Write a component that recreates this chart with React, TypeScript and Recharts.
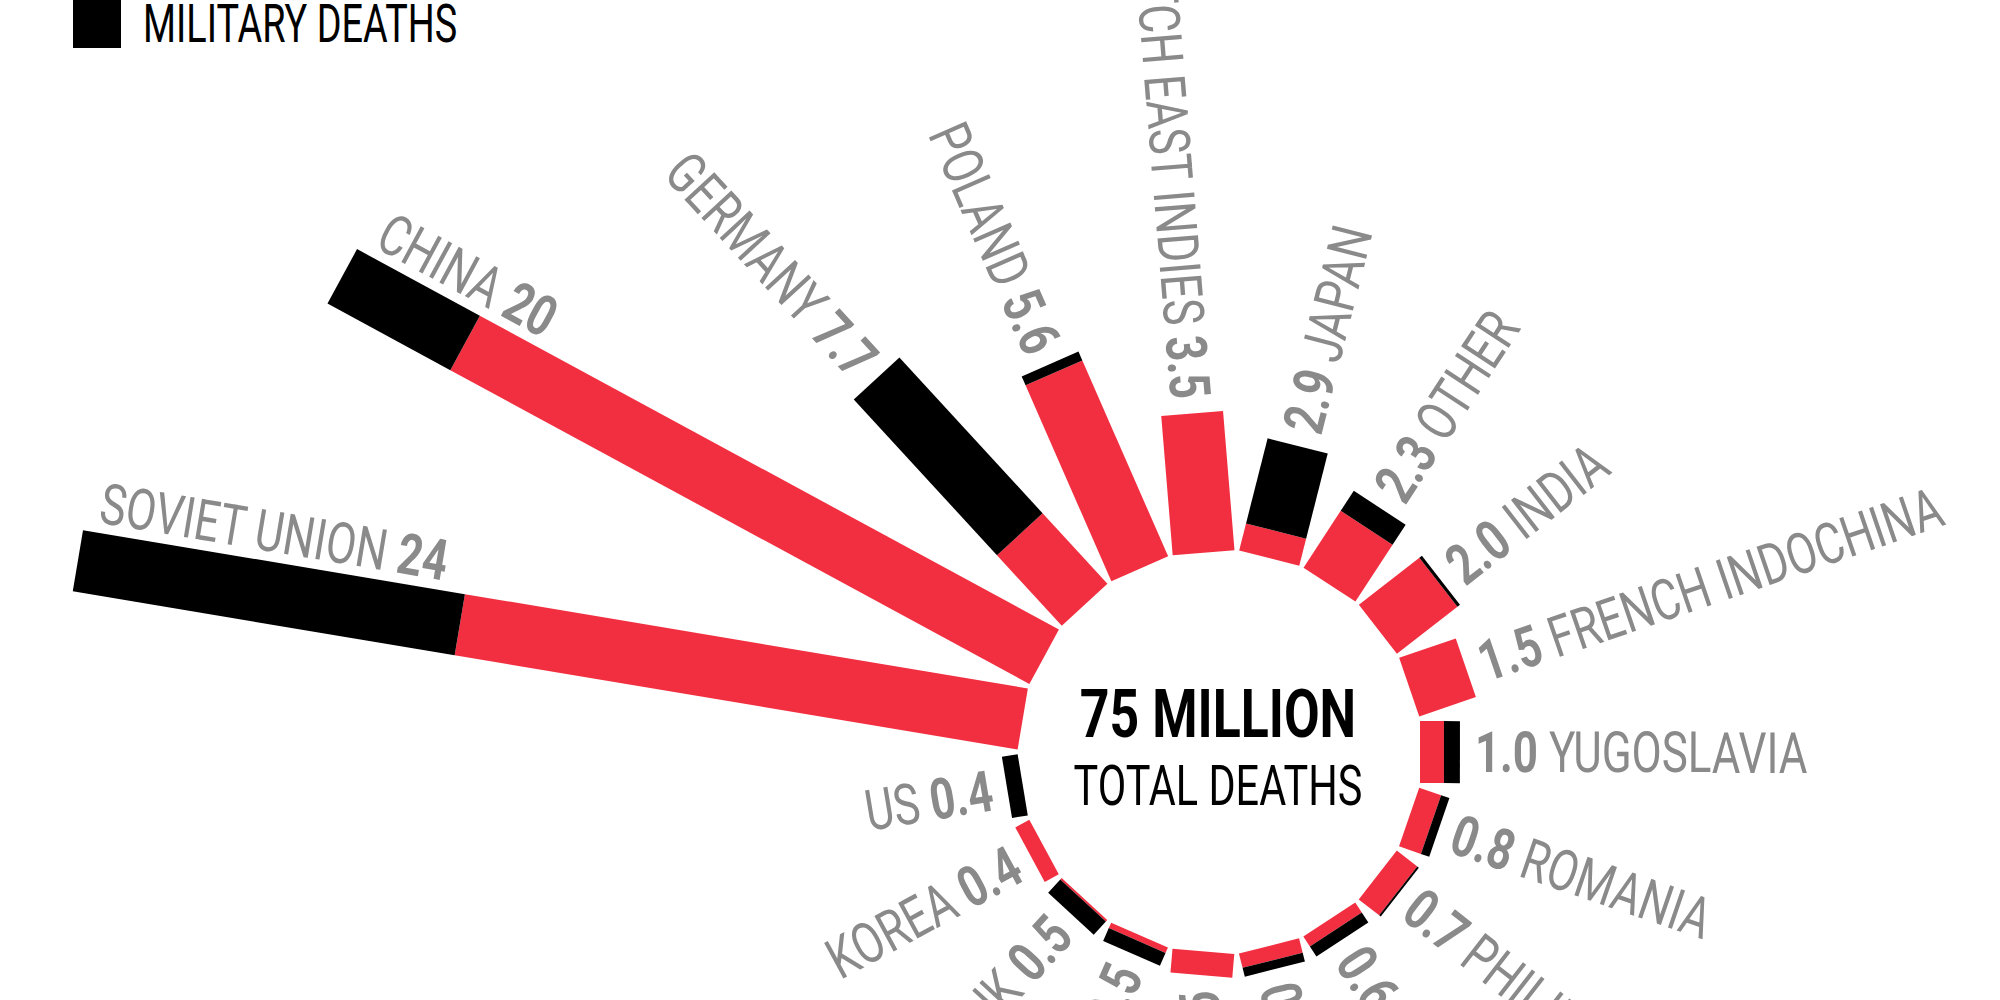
import React from "react";
import {
  RadialBarChart,
  RadialBar,
  PolarAngleAxis,
  PolarRadiusAxis,
  Legend,
  Customized,
} from "recharts";

// WWII deaths by country, millions
const countries = [
  "SOVIET UNION",
  "CHINA",
  "GERMANY",
  "POLAND",
  "DUTCH EAST INDIES",
  "JAPAN",
  "OTHER",
  "INDIA",
  "FRENCH INDOCHINA",
  "YUGOSLAVIA",
  "ROMANIA",
  "PHILIPPINES",
  "HUNGARY",
  "FRANCE",
  "GREECE",
  "ITALY",
  "UK",
  "KOREA",
  "US",
];
const civilianDeaths = [14.3, 16.5, 2.4, 5.36, 3.5, 0.7, 1.7, 1.92, 1.5, 0.6, 0.58, 0.65, 0.3, 0.37, 0.6, 0.15, 0.05, 0.4, 0];
const militaryDeaths = [9.7, 3.5, 5.3, 0.24, 0, 2.2, 0.6, 0.08, 0, 0.4, 0.22, 0.05, 0.3, 0.23, 0, 0.35, 0.45, 0, 0.4];
const totalLabels = ["24", "20", "7.7", "5.6", "3.5", "2.9", "2.3", "2.0", "1.5", "1.0", "0.8", "0.7", "0.6", "0.6", "0.6", "0.5", "0.5", "0.4", "0.4"];

const legendItems = [
  { label: "CIVILIAN DEATHS", color: "#f22f40" },
  { label: "MILITARY DEATHS", color: "#000000" },
];

const RED = "#f22f40";
const BLACK = "#000000";
const GREY = "#8a8a8a";
const FONT = "Roboto, 'Liberation Sans', sans-serif";
const BAR_WIDTH = 62;
const LABEL_SIZE = 57;
const SQUEEZE = 0.77;

const data = countries.map((name, i) => ({
  name,
  civilian: civilianDeaths[i],
  military: militaryDeaths[i],
  total: totalLabels[i],
}));

function unit(angle: number) {
  const rad = (angle * Math.PI) / 180;
  return { ux: Math.cos(rad), uy: -Math.sin(rad) };
}

function BarLabel({ cx, cy, radius, angle, name, total }: any) {
  const { ux, uy } = unit(angle);
  const compass = (((90 - angle) % 360) + 360) % 360;
  const right = compass < 180;
  const rot = right ? compass - 90 : compass - 270;
  const textProps = {
    fontFamily: FONT,
    fontSize: LABEL_SIZE,
    fill: GREY,
  };

  // the two long bars carry their label alongside, from the outer end
  if (parseFloat(total) >= 10) {
    const r = radius - 13;
    return (
      <text
        transform={`translate(${cx + ux * r},${cy + uy * r}) rotate(${rot}) scale(${SQUEEZE},1)`}
        y={-(BAR_WIDTH / 2 + 10)}
        textAnchor="start"
        {...textProps}
      >
        <tspan>{name} </tspan>
        <tspan fontWeight={700}>{total}</tspan>
      </text>
    );
  }

  const r = radius + 15;
  return (
    <text
      transform={`translate(${cx + ux * r},${cy + uy * r}) rotate(${rot}) scale(${SQUEEZE},1)`}
      dy="0.355em"
      textAnchor={right ? "start" : "end"}
      {...textProps}
    >
      {right ? (
        <>
          <tspan fontWeight={700}>{total}</tspan>
          <tspan> {name}</tspan>
        </>
      ) : (
        <>
          <tspan>{name} </tspan>
          <tspan fontWeight={700}>{total}</tspan>
        </>
      )}
    </text>
  );
}

// straight bar of constant width along the sector's middle angle
const makeBarShape = (withLabel: boolean) => (props: any) => {
  const { cx, cy, innerRadius, outerRadius, startAngle, endAngle, fill, payload } = props;
  const mid = (startAngle + endAngle) / 2;
  const { ux, uy } = unit(mid);
  const px = -uy;
  const py = ux;
  const h = BAR_WIDTH / 2;
  const pts = [
    [cx + ux * innerRadius + px * h, cy + uy * innerRadius + py * h],
    [cx + ux * outerRadius + px * h, cy + uy * outerRadius + py * h],
    [cx + ux * outerRadius - px * h, cy + uy * outerRadius - py * h],
    [cx + ux * innerRadius - px * h, cy + uy * innerRadius - py * h],
  ]
    .map((p) => p.join(","))
    .join(" ");

  return (
    <g>
      {outerRadius - innerRadius > 0.01 && <polygon points={pts} fill={fill} />}
      {withLabel && (
        <BarLabel
          cx={cx}
          cy={cy}
          radius={outerRadius}
          angle={mid}
          name={payload?.name}
          total={payload?.total}
        />
      )}
    </g>
  );
};

const renderLegend = () => (
  <div style={{ display: "flex", flexDirection: "column", gap: 14 }}>
    {legendItems.map((item) => (
      <div key={item.label} style={{ display: "flex", alignItems: "center", height: 48 }}>
        <div style={{ width: 48, height: 48, background: item.color }} />
        <span
          style={{
            marginLeft: 22,
            fontFamily: FONT,
            fontSize: 54,
            lineHeight: "48px",
            color: "#000",
            display: "inline-block",
            transform: "scaleX(0.7)",
            transformOrigin: "left center",
            whiteSpace: "nowrap",
          }}
        >
          {item.label}
        </span>
      </div>
    ))}
  </div>
);

const CenterText = () => (
  <g fontFamily={FONT} fill="#000">
    <text
      transform="translate(1218,737) scale(0.785,1)"
      textAnchor="middle"
      fontSize={66}
      fontWeight={700}
    >
      75 MILLION
    </text>
    <text transform="translate(1218,805) scale(0.74,1)" textAnchor="middle" fontSize={56}>
      TOTAL DEATHS
    </text>
  </g>
);

export default function App() {
  return (
    <div
      style={{
        position: "absolute",
        left: 0,
        top: 0,
        width: 2000,
        height: 1000,
        overflow: "hidden",
        background: "#fff",
      }}
    >
      <RadialBarChart
        width={2000}
        height={1000}
        data={data}
        layout="centric"
        cx={1220}
        cy={752}
        innerRadius={200}
        outerRadius={1158}
        startAngle={161.1}
        endAngle={-198.9}
        margin={{ top: 0, right: 0, bottom: 0, left: 0 }}
      >
        <PolarAngleAxis type="category" dataKey="name" tick={false} axisLine={false} tickLine={false} />
        <PolarRadiusAxis type="number" domain={[0, 24]} tick={false} axisLine={false} tickLine={false} />
        <RadialBar
          dataKey="civilian"
          name="Civilian deaths"
          stackId="deaths"
          fill={RED}
          shape={makeBarShape(false)}
          isAnimationActive={false}
        />
        <RadialBar
          dataKey="military"
          name="Military deaths"
          stackId="deaths"
          fill={BLACK}
          shape={makeBarShape(true)}
          isAnimationActive={false}
        />
        <Legend
          layout="vertical"
          align="center"
          verticalAlign="middle"
          content={renderLegend}
          wrapperStyle={{ top: -62, left: 73, width: "auto" }}
        />
        <Customized component={CenterText} />
      </RadialBarChart>
    </div>
  );
}
